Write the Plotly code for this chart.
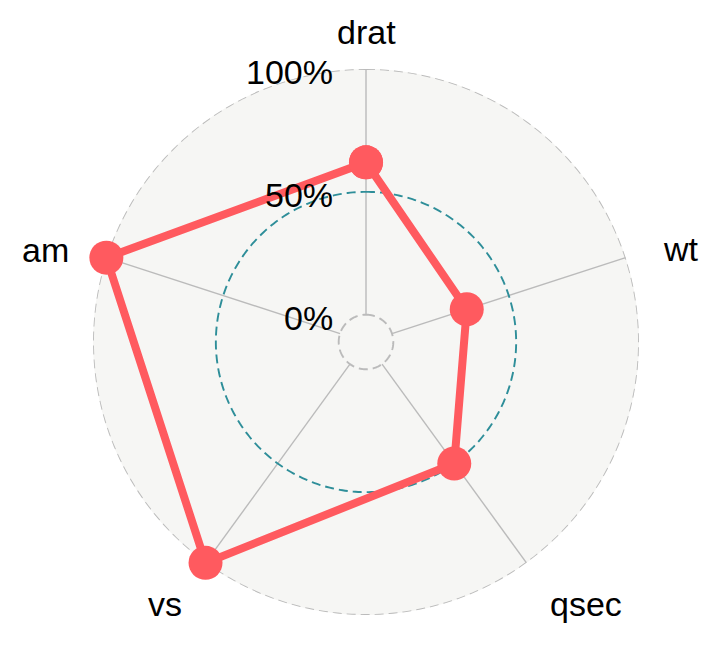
import numpy as np
import plotly.graph_objects as go

# radar data (rescaled 0..1)
axis_names = ["drat", "wt", "qsec", "vs", "am"]
values = [0.62, 0.32, 0.50, 1.00, 1.00]
grid_values = [0.0, 0.5, 1.0]
grid_labels = ["0%", "50%", "100%"]

W, H = 725, 646
page_off = 8                         # body margin of the html page
cx, cy, R = 366 - page_off, 342 - page_off, 273
r_min = -1 / 9                       # centre offset like ggradar
red = "#FF5A5F"
font = "Liberation Sans, Arial, sans-serif"

n = len(axis_names)
theta = [360 / n * i for i in range(n)]
circle = np.linspace(0, 360, 361)


def to_px(r, t):
    """polar value -> page pixel (same mapping the polar subplot uses)"""
    rad = R * (r - r_min) / (1 - r_min)
    a = np.deg2rad(90 - t)
    return cx + rad * np.cos(a), cy - rad * np.sin(a)


fig = go.Figure()

# spokes
for t in theta:
    fig.add_trace(go.Scatterpolar(
        r=[grid_values[0], grid_values[-1]], theta=[t, t], mode="lines",
        line=dict(color="#BBBBBB", width=1.4), hoverinfo="skip"))

# grid circles
grid_styles = {0.0: "#BBBBBB", 0.5: "#2E8E99", 1.0: "#BBBBBB"}
for g in grid_values:
    fig.add_trace(go.Scatterpolar(
        r=[g] * len(circle), theta=circle, mode="lines",
        line=dict(color=grid_styles[g], width=1.9, dash="9px,5px"),
        hoverinfo="skip"))

# the group polygon
fig.add_trace(go.Scatterpolar(
    r=values + values[:1], theta=theta + theta[:1], mode="lines+markers",
    line=dict(color=red, width=8), marker=dict(color=red, size=34),
    cliponaxis=False))

# axis labels (outside the radar)
label_r = 1.15
label_anchor = [("center", "middle", 0), ("left", "middle", -3),
                ("left", "top", 10), ("right", "top", 10),
                ("right", "middle", -4)]
for name, t, (xa, ya, ys) in zip(axis_names, theta, label_anchor):
    px, py = to_px(label_r, t)
    fig.add_annotation(
        x=px / W, y=1 - py / H, xref="paper", yref="paper", yshift=ys,
        text=name, showarrow=False, xanchor=xa, yanchor=ya,
        font=dict(family=font, size=34, color="black"))

# grid labels to the left of the top spoke
for g, lab in zip(grid_values, grid_labels):
    _, py = to_px(g, 0)
    fig.add_annotation(
        x=(cx - 31) / W, y=1 - (py + 3) / H, xref="paper", yref="paper",
        text=lab, showarrow=False, xanchor="right", yanchor="middle",
        font=dict(family=font, size=34, color="black"))

fig.update_layout(
    width=W, height=H,
    margin=dict(l=0, r=0, t=0, b=0),
    paper_bgcolor="white",
    showlegend=False,
    polar=dict(
        domain=dict(x=[(cx - R) / W, (cx + R) / W],
                    y=[(H - cy - R) / H, (H - cy + R) / H]),
        bgcolor="#F6F6F4",
        radialaxis=dict(range=[r_min, 1], visible=False, showgrid=False),
        angularaxis=dict(visible=False, showgrid=False, rotation=90,
                         direction="clockwise"),
    ),
)

fig.write_html("out.html")
